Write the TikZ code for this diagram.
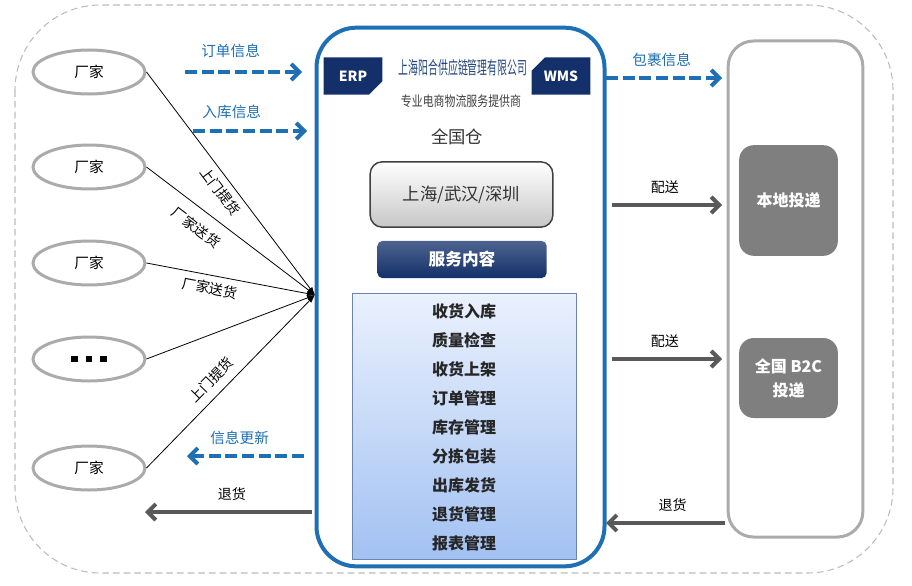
\documentclass[tikz,border=0pt]{standalone}
\usepackage{fontspec}
\setmainfont{Noto Sans CJK SC}
\usetikzlibrary{arrows.meta,shapes.geometric,shapes.misc}
\definecolor{lineblue}{HTML}{1F6FB4}
\definecolor{navy}{HTML}{13306A}
\definecolor{boxgray}{HTML}{7F7F7F}
\definecolor{ringgray}{HTML}{ABABAB}
\definecolor{arrowgray}{HTML}{595959}
\definecolor{titleblue}{HTML}{24487F}
\definecolor{svctop}{HTML}{EAF1FD}
\definecolor{svcbot}{HTML}{A2C1F2}
\definecolor{svcline}{HTML}{6A86B0}

\begin{document}
\begin{tikzpicture}[x=0.75pt, y=-0.75pt,
    factory/.style={ellipse, draw=ringgray, line width=2.25pt, minimum width=84pt, minimum height=33pt, font=\fontsize{11}{13}\selectfont},
    feed/.style={draw=black, line width=0.6pt, -{Latex[length=6pt,width=4pt]}},
    feedlabel/.style={sloped, font=\fontsize{10.5}{12}\selectfont, inner sep=0.5pt},
    infoarrow/.style={draw=lineblue, line width=3pt, dash pattern=on 9pt off 3.5pt, -{Straight Barb[length=6pt,width=12pt]}},
    infolabel/.style={text=lineblue, font=\fontsize{11}{13}\selectfont},
    goodsarrow/.style={draw=arrowgray, line width=3pt, -{Straight Barb[length=6pt,width=12pt]}},
    goodslabel/.style={text=black, font=\fontsize{10.5}{12}\selectfont},
    sysbox/.style={chamfered rectangle, chamfered rectangle xsep=5pt, chamfered rectangle ysep=5pt, fill=navy, text=white, minimum width=44pt, minimum height=28pt, font=\bfseries\fontsize{10.5}{12}\selectfont},
    darkbox/.style={fill=boxgray, rounded corners=11pt, text=white, font=\bfseries\fontsize{12}{18}\selectfont, align=center, minimum width=74pt},
    svcitem/.style={font=\bfseries\fontsize{12}{14}\selectfont, text=black!85}]
    \useasboundingbox (0,0) rectangle (912,585);

    % outer frame
    \draw[ringgray!80, line width=0.8pt, dash pattern=on 5pt off 3pt, rounded corners=64pt] (15,5) rectangle (893,573);

    % factories
    \node[factory] (f1) at (89,72) {厂家};
    \node[factory] (f2) at (89,167) {厂家};
    \node[factory] (f3) at (89,263) {厂家};
    \node[factory] (f4) at (89,359) {\rule{5pt}{5pt}\hspace{6pt}\rule{5pt}{5pt}\hspace{6pt}\rule{5pt}{5pt}};
    \node[factory] (f5) at (89,468) {厂家};

    % warehouse
    \node[draw=lineblue, line width=3pt, rounded corners=30pt, minimum width=216pt, minimum height=404pt] (wh) at (460.5,297) {};
    \node[sysbox, chamfered rectangle corners=south east] (erp) at (353,76) {ERP};
    \node[sysbox, chamfered rectangle corners=north west] (wms) at (561,76) {WMS};
    \node[text=titleblue] (title) at (463,68) {\scalebox{0.55}[1]{\fontsize{13.5}{14}\selectfont 上海阳合供应链管理有限公司}};
    \node[text=black!75] (slogan) at (461,101) {\scalebox{0.78}[1]{\fontsize{10.5}{12}\selectfont 专业电商物流服务提供商}};
    \node[text=black!80, font=\fontsize{13}{14}\selectfont] (whname) at (457,137) {全国仓};
    \node[draw=black!75, line width=1.1pt, rounded corners=9pt, top color=white, bottom color=black!22, minimum width=137pt, minimum height=49pt, text=black!80, font=\fontsize{13}{14}\selectfont] (city) at (461.5,194.5) {上海/武汉/深圳};
    \node[rounded corners=4pt, top color=navy!75, bottom color=navy, text=white, minimum width=127pt, minimum height=28pt, font=\bfseries\fontsize{12.5}{14}\selectfont] (svchead) at (462,259.5) {服务内容};
    \node[draw=svcline, line width=0.6pt, top color=svctop, bottom color=svcbot, minimum width=168pt, minimum height=199pt] (svc) at (464,426.5) {};
    \foreach \item [count=\i] in {收货入库,质量检查,收货上架,订单管理,库存管理,分拣包装,出库发货,退货管理,报表管理}
        \node[svcitem] (s\i) at (464,{311+(\i-1)*29.1}) {\item};

    % delivery side
    \node[draw=ringgray, line width=2.25pt, rounded corners=19pt, minimum width=101pt, minimum height=372pt] (dest) at (795.5,289) {};
    \node[darkbox, minimum height=83pt] (local) at (788.5,200.5) {本地投递};
    \node[darkbox, minimum height=60pt] (b2c) at (788.5,378) {全国 B2C\\投递};

    % pick-up and delivery lines
    \coordinate (hub) at (315,295);
    \draw[feed] (f1.east) -- node[feedlabel, pos=0.5, below=4pt] {上门提货} (hub);
    \draw[feed] (f2.east) -- node[feedlabel, pos=0.36, below=8pt] {厂家送货} (hub);
    \draw[feed] (f3.east) -- node[feedlabel, pos=0.39, below=4pt] {厂家送货} (hub);
    \draw[feed] (f4.east) -- (hub);
    \draw[feed] (f5.east) -- node[feedlabel, pos=0.45, above=6pt] {上门提货} (hub);

    % information flow
    \coordinate (ord0) at (185,72);   \coordinate (ord1) at (302,72);
    \coordinate (inb0) at (193,131);  \coordinate (inb1) at (307,131);
    \coordinate (upd0) at (304,456);  \coordinate (upd1) at (187,456);
    \coordinate (pkg0) at (606,78);   \coordinate (pkg1) at (722,78);
    \draw[infoarrow] (ord0) -- node[infolabel, pos=0.39, above=6pt] {订单信息} (ord1);
    \draw[infoarrow] (inb0) -- node[infolabel, pos=0.34, above=4pt] {入库信息} (inb1);
    \draw[infoarrow] (upd0) -- node[infolabel, pos=0.55, above=4pt] {信息更新} (upd1);
    \draw[infoarrow] (pkg0) -- node[infolabel, pos=0.48, above=4pt] {包裹信息} (pkg1);

    % goods flow
    \coordinate (dl0) at (612,205);   \coordinate (dl1) at (722,205);
    \coordinate (db0) at (612,359);   \coordinate (db1) at (722,359);
    \coordinate (rr0) at (725,523);   \coordinate (rr1) at (606,523);
    \coordinate (rl0) at (312,512);   \coordinate (rl1) at (145,512);
    \draw[goodsarrow] (dl0) -- node[goodslabel, pos=0.48, above=4pt] {配送} (dl1);
    \draw[goodsarrow] (db0) -- node[goodslabel, pos=0.48, above=4pt] {配送} (db1);
    \draw[goodsarrow] (rr0) -- node[goodslabel, pos=0.44, above=4pt] {退货} (rr1);
    \draw[goodsarrow] (rl0) -- node[goodslabel, pos=0.48, above=4pt] {退货} (rl1);
\end{tikzpicture}
\end{document}
